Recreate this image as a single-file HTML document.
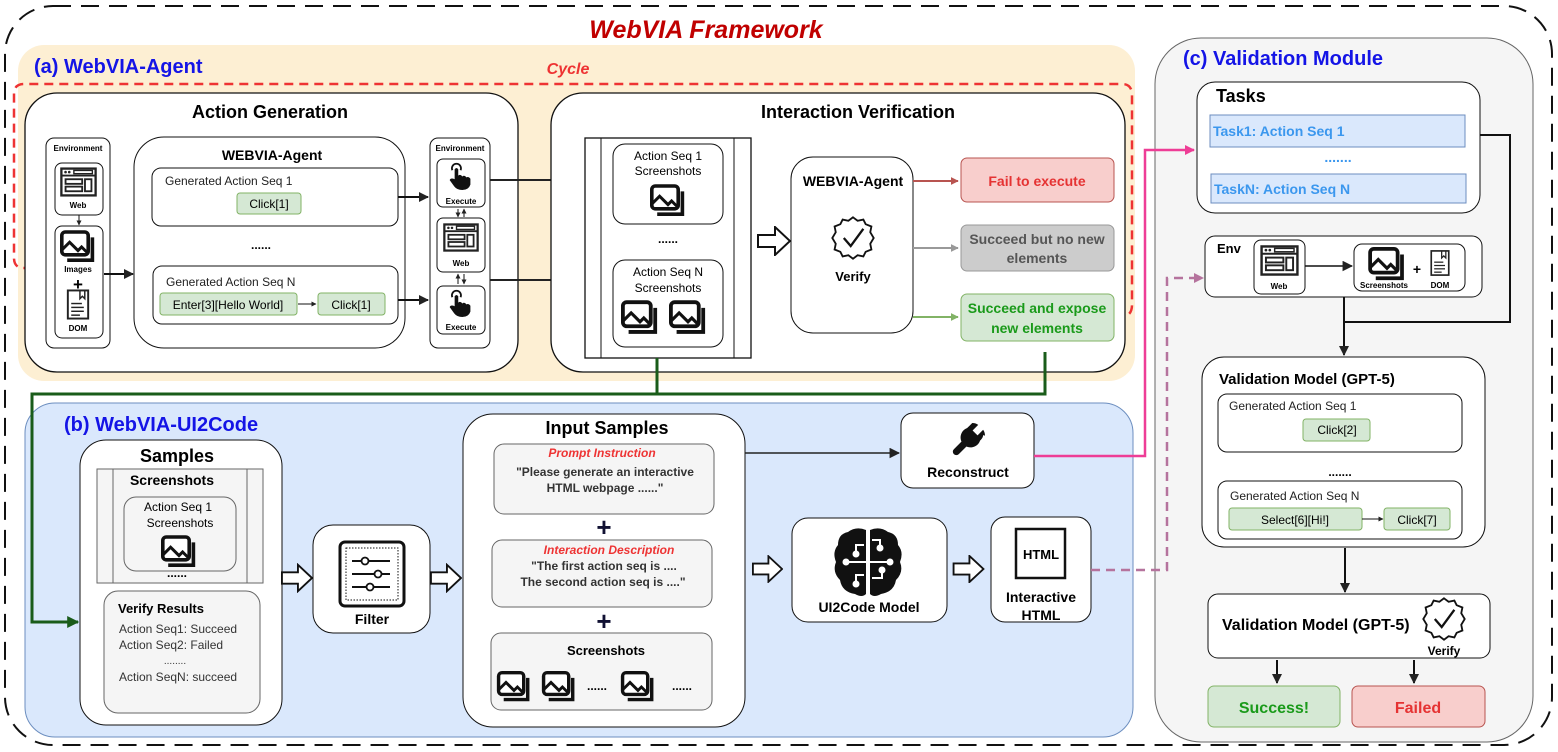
<!DOCTYPE html>
<html><head><meta charset="utf-8"><style>
html,body{margin:0;padding:0;background:#fff}
svg{display:block}
text{font-family:"Liberation Sans",Arial,sans-serif}
.b{font-weight:bold}
</style></head><body>
<svg width="1558" height="752" viewBox="0 0 1558 752" xmlns="http://www.w3.org/2000/svg">
<defs>
<marker id="ak" viewBox="0 0 10 10" refX="9" refY="5" markerWidth="5" markerHeight="5" orient="auto"><path d="M0,0L10,5L0,10z" fill="#222"/></marker>
<marker id="ak2" viewBox="0 0 10 10" refX="9" refY="5" markerWidth="7" markerHeight="7" orient="auto"><path d="M0,0L10,5L0,10z" fill="#222"/></marker>
<marker id="ar" viewBox="0 0 10 10" refX="9" refY="5" markerWidth="4" markerHeight="4" orient="auto"><path d="M0,0L10,5L0,10z" fill="#b85450"/></marker>
<marker id="ag" viewBox="0 0 10 10" refX="9" refY="5" markerWidth="4" markerHeight="4" orient="auto"><path d="M0,0L10,5L0,10z" fill="#999"/></marker>
<marker id="agr" viewBox="0 0 10 10" refX="9" refY="5" markerWidth="4" markerHeight="4" orient="auto"><path d="M0,0L10,5L0,10z" fill="#82b366"/></marker>
<marker id="adg" viewBox="0 0 10 10" refX="9" refY="5" markerWidth="4" markerHeight="4" orient="auto"><path d="M0,0L10,5L0,10z" fill="#1a5c1a"/></marker>
<marker id="apk" viewBox="0 0 10 10" refX="9" refY="5" markerWidth="4" markerHeight="4" orient="auto"><path d="M0,0L10,5L0,10z" fill="#ee3d96"/></marker>
<marker id="apl" viewBox="0 0 10 10" refX="9" refY="5" markerWidth="4" markerHeight="4" orient="auto"><path d="M0,0L10,5L0,10z" fill="#b5739d"/></marker>
<marker id="ard" viewBox="0 0 10 10" refX="9" refY="5" markerWidth="4" markerHeight="4" orient="auto"><path d="M0,0L10,5L0,10z" fill="#ee3333"/></marker>
<symbol id="img" viewBox="0 0 30 28">
<path d="M27,6 V25 H6" fill="none" stroke="#111" stroke-width="3"/>
<rect x="1.5" y="1.5" width="22" height="19" rx="3" fill="#fff" stroke="#111" stroke-width="3"/>
<path d="M2,16 L8,10 L15,17 L18,14 L23,19" fill="none" stroke="#111" stroke-width="2.5"/>
</symbol>
<symbol id="web" viewBox="0 0 40 32">
<rect x="1.5" y="1.5" width="37" height="29" fill="#fff" stroke="#222" stroke-width="2.5"/>
<line x1="1.5" y1="9" x2="38.5" y2="9" stroke="#222" stroke-width="2"/>
<circle cx="6" cy="5.3" r="1.4" fill="#222"/><circle cx="10" cy="5.3" r="1.4" fill="#222"/>
<rect x="15" y="3.5" width="20" height="3.5" fill="none" stroke="#222" stroke-width="1.5"/>
<rect x="6" y="13" width="18" height="5" fill="none" stroke="#222" stroke-width="2"/>
<rect x="6" y="21" width="18" height="5" fill="none" stroke="#222" stroke-width="2"/>
<rect x="27" y="13" width="7" height="13" fill="none" stroke="#222" stroke-width="2"/>
</symbol>
<symbol id="doc" viewBox="0 0 24 32">
<rect x="1.5" y="1.5" width="21" height="29" fill="#fff" stroke="#222" stroke-width="2"/>
<path d="M14,1.5 V10 L16.5,7.5 L19,10 V1.5" fill="none" stroke="#222" stroke-width="1.5"/>
<line x1="5" y1="15" x2="16" y2="15" stroke="#222" stroke-width="1.5"/>
<line x1="5" y1="19" x2="18" y2="19" stroke="#222" stroke-width="1.5"/>
<line x1="5" y1="23" x2="18" y2="23" stroke="#222" stroke-width="1.5"/>
<line x1="5" y1="27" x2="14" y2="27" stroke="#222" stroke-width="1.5"/>
</symbol>
<symbol id="hand" viewBox="0 0 30 32">
<path d="M6,9 A5,5 0 1 1 15,9" fill="none" stroke="#111" stroke-width="2"/>
<path d="M8.5,8 Q10.5,5 12.5,8 V15 Q15,13 17,16 Q19.5,14 21.5,17 Q24,15.5 26,18.5 V25 Q24,31 17,31 Q11,31 8,27 L3,20 Q4,17 8.5,19 Z" fill="#111"/>
</symbol>
<symbol id="badge" viewBox="0 0 40 40">
<path d="M20,2 L24,5 L29,4 L31,8 L36,10 L35,15 L38,20 L35,25 L36,30 L31,32 L29,36 L24,35 L20,38 L16,35 L11,36 L9,32 L4,30 L5,25 L2,20 L5,15 L4,10 L9,8 L11,4 L16,5 Z" fill="#fff" stroke="#111" stroke-width="1.6"/>
<path d="M12,20 L18,27 L29,12" fill="none" stroke="#111" stroke-width="2"/>
</symbol>
<symbol id="hollow" viewBox="0 0 34 30">
<path d="M1,9 H18 V1 L33,15 L18,29 V21 H1 Z" fill="#fff" stroke="#111" stroke-width="2"/>
</symbol>
</defs>

<!-- outer frame -->
<rect x="5" y="6" width="1547" height="739" rx="48" fill="#fff" stroke="#111" stroke-width="2" stroke-dasharray="18,10"/>
<text x="706" y="38" text-anchor="middle" class="b" font-style="italic" font-size="25" fill="#c00000">WebVIA Framework</text>

<!-- (a) panel -->
<rect x="18" y="45" width="1117" height="336" rx="26" fill="#fdefd3"/>
<text x="34" y="73" class="b" font-size="20" fill="#1414e6">(a) WebVIA-Agent</text>
<text x="568" y="74" text-anchor="middle" class="b" font-style="italic" font-size="16" fill="#ee3333">Cycle</text>
<path d="M1115,317 H1120 Q1132,317 1132,305 V95 Q1132,84 1122,84 H24 Q14,84 14,94 V258 Q14,268 24,268 H35" fill="none" stroke="#ee3333" stroke-width="2.5" stroke-dasharray="9,6" marker-end="url(#ard)"/>

<!-- Action Generation -->
<rect x="25" y="93" width="493" height="279" rx="32" fill="#fff" stroke="#111" stroke-width="1.3"/>
<text x="270" y="118" text-anchor="middle" class="b" font-size="18">Action Generation</text>
<rect x="46" y="138" width="64" height="210" rx="8" fill="#fff" stroke="#111"/>
<text x="78" y="151" text-anchor="middle" class="b" font-size="8">Environment</text>
<rect x="55" y="163" width="48" height="52" rx="7" fill="#fff" stroke="#111"/>
<use href="#web" x="60" y="167" width="37" height="30"/>
<text x="78" y="208" text-anchor="middle" class="b" font-size="8">Web</text>
<line x1="79" y1="215" x2="79" y2="225" stroke="#111" marker-end="url(#ak)"/>
<rect x="55" y="226" width="48" height="112" rx="7" fill="#fff" stroke="#111"/>
<use href="#img" x="60" y="230" width="36" height="34"/>
<text x="78" y="272" text-anchor="middle" class="b" font-size="8">Images</text>
<text x="78" y="290" text-anchor="middle" class="b" font-size="17">+</text>
<use href="#doc" x="66" y="289" width="24" height="31"/>
<text x="78" y="331" text-anchor="middle" class="b" font-size="8">DOM</text>
<line x1="104" y1="274" x2="133" y2="274" stroke="#111" stroke-width="2" marker-end="url(#ak)"/>

<rect x="134" y="137" width="271" height="211" rx="30" fill="#fff" stroke="#111"/>
<text x="272" y="160" text-anchor="middle" class="b" font-size="14">WEBVIA-Agent</text>
<rect x="152" y="168" width="246" height="58" rx="9" fill="#fff" stroke="#111"/>
<text x="165" y="185" font-size="12" fill="#222">Generated Action Seq 1</text>
<rect x="237" y="193" width="64" height="21" rx="3" fill="#d5e8d4" stroke="#82b366"/>
<text x="269" y="208" text-anchor="middle" font-size="12">Click[1]</text>
<text x="261" y="249" text-anchor="middle" class="b" font-size="12">......</text>
<rect x="153" y="266" width="245" height="58" rx="9" fill="#fff" stroke="#111"/>
<text x="166" y="286" font-size="12" fill="#222">Generated Action Seq N</text>
<rect x="160" y="293" width="137" height="22" rx="3" fill="#d5e8d4" stroke="#82b366"/>
<text x="228" y="309" text-anchor="middle" font-size="12">Enter[3][Hello World]</text>
<line x1="298" y1="304" x2="316" y2="304" stroke="#111" marker-end="url(#ak)"/>
<rect x="318" y="293" width="67" height="22" rx="3" fill="#d5e8d4" stroke="#82b366"/>
<text x="351" y="309" text-anchor="middle" font-size="12">Click[1]</text>
<line x1="398" y1="197" x2="428" y2="197" stroke="#111" stroke-width="2" marker-end="url(#ak)"/>
<line x1="398" y1="300" x2="428" y2="300" stroke="#111" stroke-width="2" marker-end="url(#ak)"/>

<rect x="430" y="138" width="60" height="210" rx="8" fill="#fff" stroke="#111"/>
<text x="460" y="151" text-anchor="middle" class="b" font-size="8">Environment</text>
<rect x="437" y="159" width="48" height="48" rx="6" fill="#fff" stroke="#111"/>
<use href="#hand" x="447" y="162" width="27" height="29"/>
<text x="461" y="204" text-anchor="middle" class="b" font-size="8">Execute</text>
<line x1="458" y1="209" x2="458" y2="217" stroke="#111" marker-end="url(#ak)"/>
<line x1="464" y1="217" x2="464" y2="209" stroke="#111" marker-end="url(#ak)"/>
<rect x="437" y="218" width="48" height="54" rx="6" fill="#fff" stroke="#111"/>
<use href="#web" x="443" y="223" width="36" height="29"/>
<text x="461" y="266" text-anchor="middle" class="b" font-size="8">Web</text>
<line x1="458" y1="284" x2="458" y2="274" stroke="#111" marker-end="url(#ak)"/>
<line x1="464" y1="274" x2="464" y2="284" stroke="#111" marker-end="url(#ak)"/>
<rect x="437" y="286" width="48" height="48" rx="6" fill="#fff" stroke="#111"/>
<use href="#hand" x="447" y="289" width="27" height="29"/>
<text x="461" y="330" text-anchor="middle" class="b" font-size="8">Execute</text>
<line x1="490" y1="180" x2="584" y2="180" stroke="#222" stroke-width="2" marker-end="url(#ak)"/>
<line x1="490" y1="280" x2="584" y2="280" stroke="#222" stroke-width="2" marker-end="url(#ak)"/>

<!-- Interaction Verification -->
<rect x="551" y="93" width="574" height="279" rx="32" fill="#fff" stroke="#111" stroke-width="1.3"/>
<text x="858" y="118" text-anchor="middle" class="b" font-size="18">Interaction Verification</text>
<rect x="585" y="138" width="166" height="220" fill="#fff" stroke="#111" stroke-width="1.3"/>
<line x1="601" y1="138" x2="601" y2="358" stroke="#111"/>
<line x1="734" y1="138" x2="734" y2="358" stroke="#111"/>
<rect x="613" y="144" width="110" height="80" rx="12" fill="#fff" stroke="#111"/>
<text x="668" y="160" text-anchor="middle" font-size="12">Action Seq 1</text>
<text x="668" y="175" text-anchor="middle" font-size="12">Screenshots</text>
<use href="#img" x="650" y="184" width="36" height="34"/>
<text x="668" y="243" text-anchor="middle" class="b" font-size="12">......</text>
<rect x="613" y="260" width="110" height="87" rx="12" fill="#fff" stroke="#111"/>
<text x="668" y="276" text-anchor="middle" font-size="12">Action Seq N</text>
<text x="668" y="292" text-anchor="middle" font-size="12">Screenshots</text>
<use href="#img" x="621" y="300" width="38" height="36"/>
<use href="#img" x="669" y="300" width="38" height="36"/>
<use href="#hollow" x="757" y="226" width="34" height="30"/>
<rect x="791" y="157" width="122" height="176" rx="22" fill="#fff" stroke="#111"/>
<text x="853" y="186" text-anchor="middle" class="b" font-size="14">WEBVIA-Agent</text>
<use href="#badge" x="830" y="215" width="46" height="46"/>
<text x="853" y="281" text-anchor="middle" class="b" font-size="13">Verify</text>
<line x1="913" y1="181" x2="958" y2="181" stroke="#b85450" stroke-width="2" marker-end="url(#ar)"/>
<line x1="913" y1="248" x2="958" y2="248" stroke="#999" stroke-width="2" marker-end="url(#ag)"/>
<line x1="913" y1="317" x2="958" y2="317" stroke="#82b366" stroke-width="2" marker-end="url(#agr)"/>
<rect x="961" y="158" width="153" height="44" rx="6" fill="#f8cecc" stroke="#b85450"/>
<text x="1037" y="186" text-anchor="middle" class="b" font-size="14" fill="#e53333">Fail to execute</text>
<rect x="961" y="225" width="153" height="46" rx="6" fill="#cccccc" stroke="#999"/>
<text x="1037" y="244" text-anchor="middle" class="b" font-size="14" fill="#555">Succeed but no new</text>
<text x="1037" y="263" text-anchor="middle" class="b" font-size="14" fill="#555">elements</text>
<rect x="961" y="294" width="153" height="47" rx="6" fill="#d5e8d4" stroke="#82b366"/>
<text x="1037" y="313" text-anchor="middle" class="b" font-size="14" fill="#1a9a1a">Succeed and expose</text>
<text x="1037" y="333" text-anchor="middle" class="b" font-size="14" fill="#1a9a1a">new elements</text>

<!-- (b) panel -->
<rect x="25" y="403" width="1108" height="334" rx="30" fill="#dae8fc" stroke="#6c8ebf"/>
<text x="64" y="431" class="b" font-size="20" fill="#1414e6">(b) WebVIA-UI2Code</text>
<path d="M657,358 V394 H1045 V352" fill="none" stroke="#1a5c1a" stroke-width="3"/>
<path d="M657,394 H32 V622 H78" fill="none" stroke="#1a5c1a" stroke-width="3" marker-end="url(#adg)"/>

<rect x="80" y="440" width="202" height="285" rx="26" fill="#fff" stroke="#111"/>
<text x="177" y="462" text-anchor="middle" class="b" font-size="18">Samples</text>
<rect x="97" y="469" width="166" height="114" fill="#f5f5f5" stroke="#666"/>
<line x1="113" y1="469" x2="113" y2="583" stroke="#666"/>
<line x1="247" y1="469" x2="247" y2="583" stroke="#666"/>
<text x="172" y="485" text-anchor="middle" class="b" font-size="14">Screenshots</text>
<rect x="124" y="497" width="112" height="74" rx="12" fill="#f5f5f5" stroke="#666"/>
<text x="178" y="511" text-anchor="middle" font-size="12">Action Seq 1</text>
<text x="180" y="527" text-anchor="middle" font-size="12">Screenshots</text>
<use href="#img" x="161" y="535" width="36" height="34"/>
<text x="177" y="577" text-anchor="middle" class="b" font-size="12">......</text>
<rect x="104" y="591" width="156" height="122" rx="14" fill="#f5f5f5" stroke="#666"/>
<text x="118" y="613" class="b" font-size="13">Verify Results</text>
<text x="119" y="633" font-size="12" fill="#333">Action Seq1: Succeed</text>
<text x="119" y="649" font-size="12" fill="#333">Action Seq2: Failed</text>
<text x="175" y="664" text-anchor="middle" font-size="10" fill="#333">........</text>
<text x="119" y="681" font-size="12" fill="#333">Action SeqN: succeed</text>
<use href="#hollow" x="281" y="563" width="32" height="30"/>

<rect x="313" y="525" width="117" height="108" rx="20" fill="#fff" stroke="#111"/>
<rect x="340" y="542" width="64" height="64" rx="5" fill="#fff" stroke="#111" stroke-width="3"/>
<rect x="346" y="548" width="52" height="52" fill="none" stroke="#111" stroke-dasharray="1.5,1.5"/>
<line x1="352" y1="561" x2="390" y2="561" stroke="#111" stroke-width="2"/><circle cx="365" cy="561" r="3.5" fill="#fff" stroke="#111" stroke-width="1.8"/>
<line x1="352" y1="574" x2="390" y2="574" stroke="#111" stroke-width="2"/><circle cx="378" cy="574" r="3.5" fill="#fff" stroke="#111" stroke-width="1.8"/>
<line x1="352" y1="587" x2="390" y2="587" stroke="#111" stroke-width="2"/><circle cx="370" cy="587" r="3.5" fill="#fff" stroke="#111" stroke-width="1.8"/>
<text x="372" y="624" text-anchor="middle" class="b" font-size="14">Filter</text>
<use href="#hollow" x="430" y="563" width="32" height="30"/>

<rect x="463" y="414" width="282" height="313" rx="30" fill="#fff" stroke="#111"/>
<text x="607" y="434" text-anchor="middle" class="b" font-size="18">Input Samples</text>
<rect x="494" y="444" width="220" height="70" rx="10" fill="#f5f5f5" stroke="#666"/>
<text x="602" y="457" text-anchor="middle" class="b" font-style="italic" font-size="12" fill="#ee3333">Prompt Instruction</text>
<text x="605" y="476" text-anchor="middle" class="b" font-size="12" fill="#333">"Please generate an interactive</text>
<text x="605" y="492" text-anchor="middle" class="b" font-size="12" fill="#333">HTML webpage ......"</text>
<text x="604" y="536" text-anchor="middle" class="b" font-size="26" fill="#111133">+</text>
<rect x="492" y="540" width="220" height="67" rx="10" fill="#f5f5f5" stroke="#666"/>
<text x="609" y="554" text-anchor="middle" class="b" font-style="italic" font-size="12" fill="#ee3333">Interaction Description</text>
<text x="604" y="570" text-anchor="middle" class="b" font-size="12" fill="#333">"The first action seq is ....</text>
<text x="603" y="586" text-anchor="middle" class="b" font-size="12" fill="#333">The second action seq is ...."</text>
<text x="604" y="630" text-anchor="middle" class="b" font-size="26" fill="#111133">+</text>
<rect x="491" y="633" width="221" height="77" rx="10" fill="#f5f5f5" stroke="#666"/>
<text x="606" y="655" text-anchor="middle" class="b" font-size="13">Screenshots</text>
<use href="#img" x="496" y="671" width="36" height="32"/>
<use href="#img" x="541" y="671" width="36" height="32"/>
<text x="597" y="690" text-anchor="middle" class="b" font-size="12">......</text>
<use href="#img" x="620" y="671" width="36" height="32"/>
<text x="682" y="690" text-anchor="middle" class="b" font-size="12">......</text>
<line x1="745" y1="453" x2="899" y2="453" stroke="#222" stroke-width="1.5" marker-end="url(#ak2)"/>
<rect x="901" y="413" width="133" height="75" rx="12" fill="#fff" stroke="#111"/>
<g transform="translate(968,440) rotate(45)">
<rect x="-3.5" y="-6" width="7" height="26" rx="3.5" fill="#111"/>
<path d="M-9,-8 A10,10 0 1 0 9,-8 L3,-8 L3,-18 A10,10 0 0 1 9,-15 Z M-9,-8 L-3,-8 L-3,-18 A10,10 0 0 0 -9,-15 Z" fill="#111"/>
<circle cx="0" cy="-9" r="9" fill="#111"/>
<rect x="-3.5" y="-22" width="7" height="12" fill="#fff"/>
</g>
<text x="968" y="477" text-anchor="middle" class="b" font-size="14">Reconstruct</text>
<use href="#hollow" x="752" y="555" width="31" height="28"/>
<rect x="792" y="518" width="155" height="104" rx="16" fill="#fff" stroke="#111"/>
<path d="M866,530 Q856,526 848,532 Q838,534 838,545 Q832,552 836,562 Q832,572 840,580 Q842,592 855,594 Q862,598 866,594 Z" fill="#111"/>
<path d="M870,530 Q880,526 888,532 Q898,534 898,545 Q904,552 900,562 Q904,572 896,580 Q894,592 881,594 Q874,598 870,594 Z" fill="#111"/>
<g stroke="#fff" stroke-width="2" fill="#fff">
<path d="M864,545 H856 V552" fill="none"/><circle cx="856" cy="554" r="2.5"/>
<path d="M866,562 H848" fill="none"/><circle cx="846" cy="562" r="2.5"/>
<path d="M864,575 H856 V582" fill="none"/><circle cx="856" cy="584" r="2.5"/>
<path d="M872,540 H880 V546" fill="none"/><circle cx="880" cy="548" r="2.5"/>
<path d="M870,562 H888" fill="none"/><circle cx="890" cy="562" r="2.5"/>
<path d="M872,578 H882 V572" fill="none"/><circle cx="882" cy="570" r="2.5"/>
</g>
<text x="869" y="612" text-anchor="middle" class="b" font-size="14">UI2Code Model</text>
<use href="#hollow" x="952" y="555" width="33" height="28"/>
<rect x="991" y="517" width="100" height="105" rx="14" fill="#fff" stroke="#111"/>
<rect x="1016" y="529" width="49" height="49" fill="#fff" stroke="#111" stroke-width="2.5"/>
<text x="1041" y="559" text-anchor="middle" class="b" font-size="13">HTML</text>
<text x="1041" y="602" text-anchor="middle" class="b" font-size="14">Interactive</text>
<text x="1041" y="620" text-anchor="middle" class="b" font-size="14">HTML</text>

<!-- (c) panel -->
<rect x="1155" y="38" width="378" height="704" rx="46" fill="#f5f5f5" stroke="#666"/>
<text x="1183" y="65" class="b" font-size="20" fill="#1414e6">(c) Validation Module</text>
<rect x="1197" y="82" width="283" height="131" rx="18" fill="#fff" stroke="#111"/>
<text x="1216" y="102" class="b" font-size="18">Tasks</text>
<rect x="1210" y="115" width="255" height="32" fill="#dae8fc" stroke="#6c8ebf"/>
<text x="1213" y="136" class="b" font-size="14" fill="#3b97ee">Task1: Action Seq 1</text>
<text x="1338" y="162" text-anchor="middle" class="b" font-size="14" fill="#3b97ee">.......</text>
<rect x="1211" y="174" width="255" height="29" fill="#dae8fc" stroke="#6c8ebf"/>
<text x="1214" y="194" class="b" font-size="14" fill="#3b97ee">TaskN: Action Seq N</text>
<path d="M1480,135 H1510 V322 H1344" fill="none" stroke="#111" stroke-width="2"/>
<rect x="1205" y="236" width="277" height="61" rx="10" fill="#fff" stroke="#111"/>
<text x="1217" y="253" class="b" font-size="13">Env</text>
<rect x="1254" y="240" width="51" height="54" rx="7" fill="#fff" stroke="#111"/>
<use href="#web" x="1260" y="245" width="39" height="31"/>
<text x="1279" y="289" text-anchor="middle" class="b" font-size="8">Web</text>
<line x1="1305" y1="266" x2="1352" y2="266" stroke="#111" stroke-width="1.5" marker-end="url(#ak2)"/>
<rect x="1354" y="244" width="111" height="47" rx="8" fill="#fff" stroke="#111"/>
<use href="#img" x="1368" y="247" width="38" height="35"/>
<text x="1417" y="274" text-anchor="middle" class="b" font-size="14">+</text>
<use href="#doc" x="1430" y="248" width="20" height="30"/>
<text x="1384" y="288" text-anchor="middle" class="b" font-size="8">Screenshots</text>
<text x="1440" y="288" text-anchor="middle" class="b" font-size="8">DOM</text>
<line x1="1344" y1="297" x2="1344" y2="355" stroke="#111" stroke-width="2" marker-end="url(#ak)"/>
<rect x="1202" y="357" width="283" height="190" rx="22" fill="#fff" stroke="#111"/>
<text x="1219" y="384" class="b" font-size="15">Validation Model (GPT-5)</text>
<rect x="1218" y="394" width="244" height="58" rx="9" fill="#fff" stroke="#111"/>
<text x="1229" y="410" font-size="12" fill="#222">Generated Action Seq 1</text>
<rect x="1303" y="419" width="67" height="22" rx="3" fill="#d5e8d4" stroke="#82b366"/>
<text x="1337" y="434" text-anchor="middle" font-size="12">Click[2]</text>
<text x="1340" y="476" text-anchor="middle" class="b" font-size="12">.......</text>
<rect x="1218" y="481" width="244" height="58" rx="9" fill="#fff" stroke="#111"/>
<text x="1230" y="500" font-size="12" fill="#222">Generated Action Seq N</text>
<rect x="1229" y="508" width="133" height="22" rx="3" fill="#d5e8d4" stroke="#82b366"/>
<text x="1295" y="524" text-anchor="middle" font-size="12">Select[6][Hi!]</text>
<line x1="1362" y1="519" x2="1383" y2="519" stroke="#111" marker-end="url(#ak)"/>
<rect x="1384" y="508" width="66" height="22" rx="3" fill="#d5e8d4" stroke="#82b366"/>
<text x="1417" y="524" text-anchor="middle" font-size="12">Click[7]</text>
<line x1="1345" y1="548" x2="1345" y2="592" stroke="#111" stroke-width="2" marker-end="url(#ak)"/>
<rect x="1208" y="594" width="282" height="64" rx="10" fill="#fff" stroke="#111"/>
<text x="1222" y="630" class="b" font-size="16">Validation Model (GPT-5)</text>
<use href="#badge" x="1421" y="596" width="46" height="46"/>
<text x="1444" y="655" text-anchor="middle" class="b" font-size="12">Verify</text>
<line x1="1277" y1="660" x2="1277" y2="683" stroke="#111" stroke-width="2" marker-end="url(#ak)"/>
<line x1="1414" y1="660" x2="1414" y2="683" stroke="#111" stroke-width="2" marker-end="url(#ak)"/>
<rect x="1208" y="686" width="132" height="41" rx="6" fill="#d5e8d4" stroke="#82b366"/>
<text x="1274" y="713" text-anchor="middle" class="b" font-size="16" fill="#1a9a1a">Success!</text>
<rect x="1352" y="686" width="133" height="41" rx="6" fill="#f8cecc" stroke="#b85450"/>
<text x="1418" y="713" text-anchor="middle" class="b" font-size="16" fill="#e53333">Failed</text>

<!-- cross-panel connectors drawn last -->
<path d="M1091,570 H1167 V278 H1203" fill="none" stroke="#b5739d" stroke-width="2.5" stroke-dasharray="9,6" marker-end="url(#apl)"/>
<path d="M1034,456 H1145 V150 H1194" fill="none" stroke="#ee3d96" stroke-width="2.5" marker-end="url(#apk)"/>
</svg>
</body></html>
